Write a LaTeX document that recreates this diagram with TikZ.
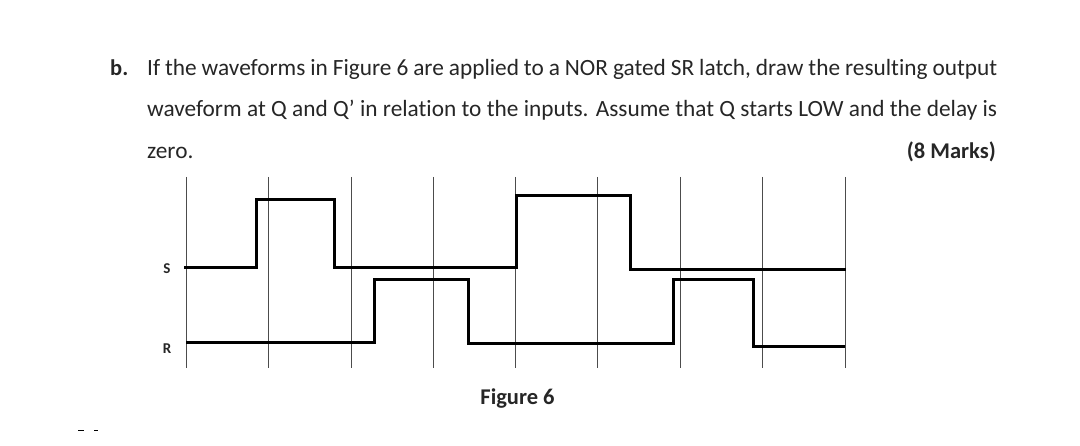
\documentclass[tikz,border=0pt]{standalone}
\usepackage{fontspec}
\setmainfont[RawFeature={-liga}]{Carlito}
\usetikzlibrary{positioning}

\begin{document}
\begin{tikzpicture}[
    x=1pt, y=-1pt,
    gridline/.style={black!70, line width=0.9pt},
    wave/.style={black, line width=3pt, line join=miter},
    body/.style={font=\fontsize{23.3}{28}\selectfont, text=black!85, inner sep=0pt, anchor=base west},
    boldbody/.style={body, font=\fontsize{22.5}{27}\selectfont\bfseries},
    signal/.style={font=\fontsize{15}{17}\selectfont\bfseries, text=black!85, inner sep=0pt},
    stub/.style={black, line width=1pt}
]
\useasboundingbox (0,0) rectangle (1080,446);

% Question text
\node[boldbody] (partb) at (110, 76) {b.};
\node[body] (line1) at (147, 76) {\makebox[850pt][s]{If the waveforms in Figure 6 are applied to a NOR gated SR latch, draw the resulting output}};
\node[body] (line2) at (147, 117) {\makebox[850pt][s]{waveform at Q and Q’ in relation to the inputs. Assume that Q starts LOW and the delay is}};
\node[body] (line3) at (147, 159) {zero.};
\node[boldbody, anchor=base east] (marks) at (996, 159) {(8 Marks)};

% Grid lines
\foreach \i/\x in {0/186.3,1/268.7,2/351,3/433.3,4/515.3,5/597.7,6/680.3,7/762.3,8/845} {
    \draw[gridline] (\x, 177) -- (\x, 367.7);
}

% Signal names
\node[signal] (sname) at (167, 268.5) {S};
\node[signal] (rname) at (167, 348.5) {R};

% S waveform
\draw[wave] (184, 267.7) -- (256.3, 267.7) -- (256.3, 200) -- (334.3, 200) -- (334.3, 267.7)
    -- (516.5, 267.7) -- (516.5, 195.3) -- (630.3, 195.3) -- (630.3, 269.3) -- (846, 269.3);

% R waveform
\draw[wave] (186, 342.3) -- (374, 342.3) -- (374, 279.3) -- (468.3, 279.3) -- (468.3, 343.7)
    -- (673.7, 343.7) -- (673.7, 279.3) -- (753, 279.3) -- (753, 346.7) -- (845, 346.7);

% Caption
\node[boldbody, anchor=base] (caption) at (517.5, 404.5) {Figure 6};

% Cut-off marks at the bottom edge
\draw[stub] (78, 431) -- (84, 431);
\draw[stub] (94, 431) -- (98, 431);

\end{tikzpicture}
\end{document}
